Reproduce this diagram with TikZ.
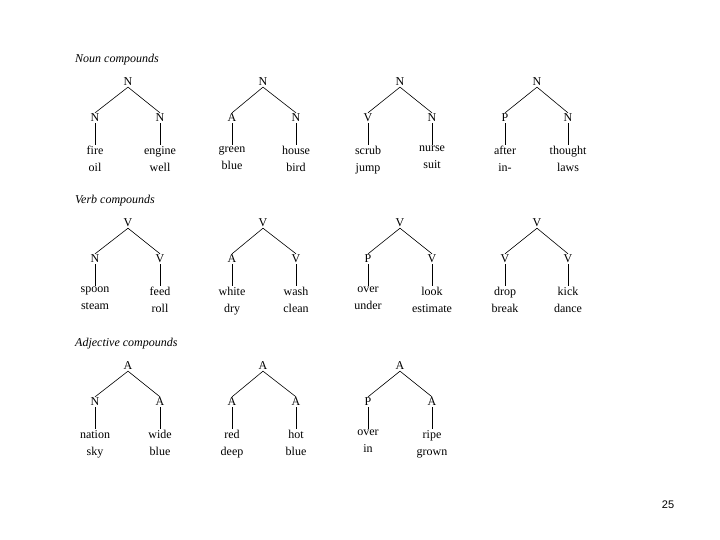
\documentclass[tikz,border=0pt]{standalone}
\usepackage{fontspec}
\setmainfont{Liberation Serif}
\newfontfamily\pgnum{Liberation Sans}
\begin{document}
\begin{tikzpicture}[x=1pt,y=-1pt,
  cat/.style={inner sep=1pt,font=\fontsize{12}{13}\selectfont},
  word/.style={inner sep=1pt,align=center,font=\fontsize{12}{17}\selectfont,anchor=north},
  head/.style={anchor=west,inner sep=0pt,font=\fontsize{12}{13}\itshape},
  br/.style={line width=0.6pt}]
\useasboundingbox (0,0) rectangle (720,540);
\node[head] (h1) at (75,60) {Noun compounds};
\node[head] (h2) at (75,201) {Verb compounds};
\node[head] (h3) at (75,344) {Adjective compounds};
\newcommand\mytree[9]{%
 % #1 id, #2 rootx, #3 y, #4 lx, #5 rx, #6 root, #7 lcat, #8 rcat, #9 words
 \node[cat] (#1r) at (#2,#3) {#6};
 \node[cat] (#1a) at (#4,#3+36) {#7};
 \node[cat] (#1b) at (#5,#3+36) {#8};
 \draw[br] (#1r.south) -- (#1a.north);
 \draw[br] (#1r.south) -- (#1b.north);
}
\newcommand\mywords[5]{%
 \node[word] (#1c) at (#2,#4) {#3};
 \draw[br] (#1.south) -- (#1c.north);
}
% Noun
\mytree{n1}{128}{82}{95}{160}{N}{N}{N}{}
\mywords{n1a}{95}{fire\\oil}{145}{}
\mywords{n1b}{160}{engine\\well}{145}{}
\mytree{n2}{263}{82}{232}{296}{N}{A}{N}{}
\mywords{n2a}{232}{green\\blue}{145}{}
\mywords{n2b}{296}{house\\bird}{145}{}
\mytree{n3}{400}{82}{368}{432}{N}{V}{N}{}
\mywords{n3a}{368}{scrub\\jump}{145}{}
\mywords{n3b}{432}{nurse\\suit}{145}{}
\mytree{n4}{537}{82}{505}{568}{N}{P}{N}{}
\mywords{n4a}{505}{after\\in-}{145}{}
\mywords{n4b}{568}{thought\\laws}{145}{}
% Verb
\mytree{v1}{128}{223}{95}{160}{V}{N}{V}{}
\mywords{v1a}{95}{spoon\\steam}{286}{}
\mywords{v1b}{160}{feed\\roll}{286}{}
\mytree{v2}{263}{223}{232}{296}{V}{A}{V}{}
\mywords{v2a}{232}{white\\dry}{286}{}
\mywords{v2b}{296}{wash\\clean}{286}{}
\mytree{v3}{400}{223}{368}{432}{V}{P}{V}{}
\mywords{v3a}{368}{over\\under}{286}{}
\mywords{v3b}{432}{look\\estimate}{286}{}
\mytree{v4}{537}{223}{505}{568}{V}{V}{V}{}
\mywords{v4a}{505}{drop\\break}{286}{}
\mywords{v4b}{568}{kick\\dance}{286}{}
% Adjective
\mytree{a1}{128}{366}{95}{160}{A}{N}{A}{}
\mywords{a1a}{95}{nation\\sky}{429}{}
\mywords{a1b}{160}{wide\\blue}{429}{}
\mytree{a2}{263}{366}{232}{296}{A}{A}{A}{}
\mywords{a2a}{232}{red\\deep}{429}{}
\mywords{a2b}{296}{hot\\blue}{429}{}
\mytree{a3}{400}{366}{368}{432}{A}{P}{A}{}
\mywords{a3a}{368}{over\\in}{429}{}
\mywords{a3b}{432}{ripe\\grown}{429}{}
\node[font=\pgnum\fontsize{11}{13}\selectfont] (pg) at (668,505) {25};
\end{tikzpicture}
\end{document}
